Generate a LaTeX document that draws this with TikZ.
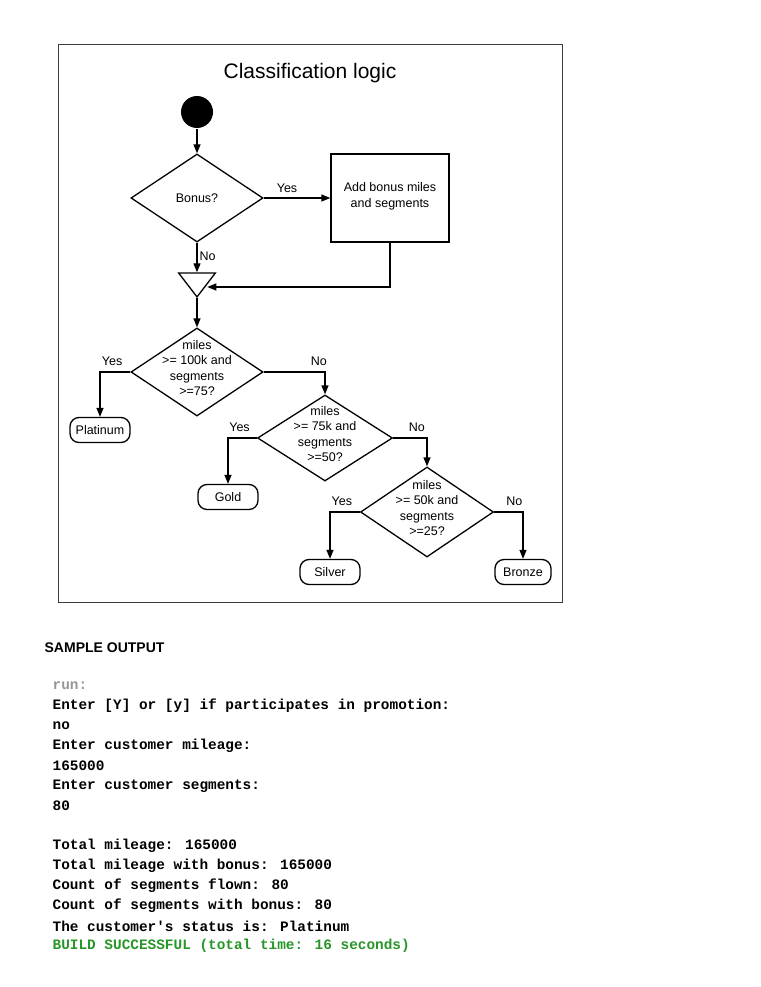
\documentclass[tikz,border=0pt]{standalone}
\usepackage{fontspec}
\setmainfont{Liberation Sans}
\newfontfamily\consolefont{Liberation Mono}
\usetikzlibrary{shapes.geometric, arrows.meta}
\definecolor{framegray}{RGB}{60,60,60}
\definecolor{rungray}{RGB}{150,150,150}
\definecolor{buildgreen}{RGB}{40,150,40}
\begin{document}
\begin{tikzpicture}[x=1pt, y=-1pt,
  line width=1.3pt,
  arr/.style={-{Triangle[length=9pt,width=7pt]}},
  lbl/.style={font=\fontsize{12.5}{14}\selectfont, inner sep=0pt},
  dec/.style={draw, diamond, minimum width=132pt, minimum height=88pt, inner sep=0pt},
  dectext/.style={font=\fontsize{12.5}{15.5}\selectfont, align=center, inner sep=0pt},
  term/.style={draw, rounded corners=9pt, minimum width=60pt, minimum height=25pt, inner sep=0pt, font=\fontsize{12.5}{14}\selectfont},
  con/.style={font=\consolefont\bfseries\fontsize{14.4}{16}\selectfont, anchor=west, inner sep=0pt}]
\useasboundingbox (0,0) rectangle (760,987);
\draw[framegray, line width=1pt] (58,45) rectangle (562,602);
\node[font=\fontsize{21}{24}\selectfont] (title) at (310,73) {Classification logic};

\node[circle, fill=black, minimum size=32pt, inner sep=0pt] (start) at (197,112) {};
\node[dec] (bonus) at (197,198) {};
\node[lbl] (bonust) at (197,198) {Bonus?};
\node[draw, minimum width=118pt, minimum height=88pt, inner sep=0pt] (add) at (390,198) {};
\node[dectext, anchor=north] (addt) at (390,182) {Add bonus miles\\and segments};
\node[draw, isosceles triangle, isosceles triangle apex angle=75, shape border rotate=-90, minimum height=24pt, inner sep=0pt, anchor=apex] (merge) at (197,298) {};
\coordinate (corner) at (390,287);

\node[dec] (d1) at (197,372) {};
\node[dectext] (d1t) at (197,368) {miles\\>= 100k and\\segments\\>=75?};
\node[dec, minimum width=135pt, minimum height=86pt] (d2) at (325,438) {};
\node[dectext] (d2t) at (325,434) {miles\\>= 75k and\\segments\\>=50?};
\node[dec, minimum width=133pt, minimum height=90pt] (d3) at (427,512) {};
\node[dectext] (d3t) at (427,508) {miles\\>= 50k and\\segments\\>=25?};

\node[term] (plat) at (100,430) {Platinum};
\node[term] (gold) at (228,497) {Gold};
\node[term] (silver) at (330,572) {Silver};
\node[term, minimum width=56pt] (bronze) at (523,572) {Bronze};

\draw[arr] (start) -- (bonus.north);
\draw[arr] (bonus.east) -- (add.west) node[lbl, pos=0.35, above=5pt] {Yes};
\draw[arr] (bonus.south) -- (merge.north) node[lbl, pos=0.45, right=2pt] {No};
\draw[arr] (add.south) |- (merge.east |- corner) -- ([xshift=-2pt]merge.east |- corner);
\draw[arr] (merge.apex) -- (d1.north);
\draw[arr] (d1.west) -| (plat.north) node[lbl, pos=0.3, above=6pt] {Yes};
\draw[arr] (d1.east) -| (d2.north) node[lbl, pos=0.45, above=6pt] {No};
\draw[arr] (d2.west) -| (gold.north) node[lbl, pos=0.3, above=6pt] {Yes};
\draw[arr] (d2.east) -| (d3.north) node[lbl, pos=0.35, above=6pt] {No};
\draw[arr] (d3.west) -| (silver.north) node[lbl, pos=0.3, above=6pt] {Yes};
\draw[arr] (d3.east) -| (bronze.north) node[lbl, pos=0.35, above=6pt] {No};

\node[font=\bfseries\fontsize{14}{16}\selectfont, anchor=west, inner sep=0pt] (sample) at (44,648) {SAMPLE OUTPUT};
\node[con, rungray] (l1) at (52,686) {run:};
\node[con] (l2) at (52,706) {Enter [Y] or [y] if participates in promotion:};
\node[con] (l3) at (52,726) {no};
\node[con] (l4) at (52,746) {Enter customer mileage:};
\node[con] (l5) at (52,766) {165000};
\node[con] (l6) at (52,786) {Enter customer segments:};
\node[con] (l7) at (52,806) {80};
\node[con] (l8) at (52,846) {Total mileage: 165000};
\node[con] (l9) at (52,866) {Total mileage with bonus: 165000};
\node[con] (l10) at (52,886) {Count of segments flown: 80};
\node[con] (l11) at (52,906) {Count of segments with bonus: 80};
\node[con] (l12) at (52,926) {The customer's status is: Platinum};
\node[con, buildgreen] (l13) at (52,946) {BUILD SUCCESSFUL (total time: 16 seconds)};
\end{tikzpicture}
\end{document}
